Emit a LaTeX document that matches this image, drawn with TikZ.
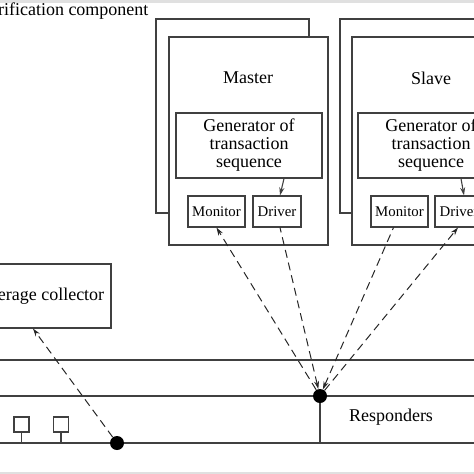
\documentclass[tikz,border=0pt]{standalone}
\usepackage{fontspec}
\setmainfont{Liberation Serif}
\usetikzlibrary{arrows.meta}

\tikzset{
	frame/.style = {draw = black!75, line width = 1.1pt},
	box/.style = {draw = black!75, line width = 1.1pt, inner sep = 0pt, align = center, font = \fontsize{18}{18}\selectfont},
	smallbox/.style = {box, minimum width = 48pt, minimum height = 31pt, font = \fontsize{14.8}{16}\selectfont},
	genbox/.style = {box, minimum width = 146pt, minimum height = 65pt},
	label/.style = {font = \fontsize{18}{18}\selectfont},
	dot/.style = {circle, fill = black, inner sep = 0pt, minimum size = 14pt},
	link/.style = {black!85, line width = 1pt, dash pattern = on 8pt off 5pt},
	tip/.style = {-{Stealth[length = 8pt, width = 5pt]}},
	bus/.style = {black!75, line width = 1.1pt}
}

\begin{document}
\begin{tikzpicture}[x = 1pt, y = -1pt]
	\useasboundingbox (0, 0) rectangle (474, 474);
	\clip (0, 0) rectangle (474, 474);
	\fill[black!12] (0, 0) rectangle (474, 2.5);
	\fill[black!12] (0, 472) rectangle (474, 474);
	
	% verification component
	\node[label, anchor = east] (vc) at (152, 11) {Verification component};
	
	% master
	\draw[frame] (156, 19) rectangle (309, 213);
	\draw[frame, fill = white] (169, 37) rectangle (328, 245);
	\node[label] (mlab) at (248, 78) {Master};
	\node[genbox] (mgen) at (249, 145.5) {Generator of\\transaction\\sequence};
	\node[smallbox, minimum width = 57pt] (mmon) at (216.5, 211.5) {Monitor};
	\node[smallbox] (mdrv) at (277, 211.5) {Driver};
	
	% slave
	\draw[frame] (340, 19) rectangle (493, 213);
	\draw[frame, fill = white] (352, 37) rectangle (511, 245);
	\node[label] (slab) at (431, 78) {Slave};
	\node[genbox] (sgen) at (431, 145.5) {Generator of\\transaction\\sequence};
	\node[smallbox, minimum width = 57pt] (smon) at (399.5, 211.5) {Monitor};
	\node[smallbox] (sdrv) at (459, 211.5) {Driver};
	
	\draw[bus, tip] ([xshift = 7pt]mgen.south -| mdrv.north) -- ([xshift = 3pt]mdrv.north);
	\draw[bus, tip] ([xshift = 2pt]sgen.south -| sdrv.north) -- ([xshift = 5pt]sdrv.north);
	
	% coverage collector
	\node[box, minimum width = 150pt, minimum height = 64pt] (cov) at (36, 296) {Coverage collector};
	
	% buses
	\draw[bus] (0, 360) -- (474, 360);
	\draw[bus] (0, 396) -- (474, 396);
	\draw[bus] (0, 443) -- (474, 443);
	
	\node[draw = black!75, line width = 1.1pt, minimum size = 15pt, inner sep = 0pt] (dev1) at (21.5, 424.5) {};
	\node[draw = black!75, line width = 1.1pt, minimum size = 15pt, inner sep = 0pt] (dev2) at (61, 424.5) {};
	\draw[bus] (dev1.south) -- (dev1.south |- 0, 443);
	\draw[bus] (dev2.south) -- (dev2.south |- 0, 443);
	
	\node[dot] (p1) at (117, 443) {};
	\node[dot] (p2) at (320, 396) {};
	\draw[bus] (p2) -- (320, 443);
	
	\node[label] (resp) at (391, 417) {Responders};
	
	% monitoring links
	\draw[link, tip] (p1) -- ([xshift = -3pt]cov.south);
	\draw[link, tip] (p2) -- (mmon.south);
	\draw[link, tip, {Stealth[length = 8pt, width = 5pt]}-] (p2) -- ([xshift = 3pt]mdrv.south);
	\draw[link, tip, {Stealth[length = 8pt, width = 5pt]}-] (p2) -- ([xshift = -6pt]smon.south);
	\draw[link, tip] (p2) -- ([xshift = -1pt]sdrv.south);
\end{tikzpicture}
\end{document}
